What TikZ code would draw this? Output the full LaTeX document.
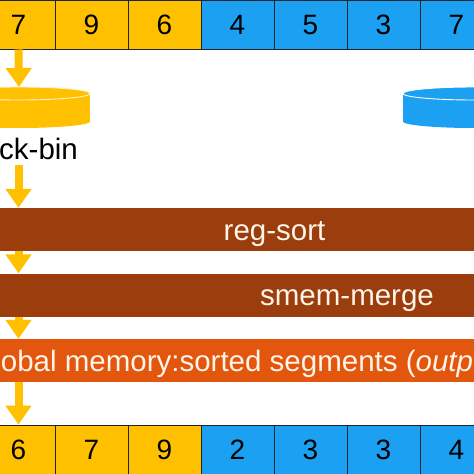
\documentclass[tikz,border=0pt]{standalone}
\usepackage{fontspec}
\setmainfont{Liberation Sans}
\usetikzlibrary{arrows.meta, positioning}
\definecolor{segyellow}{HTML}{FFC000}
\definecolor{segblue}{HTML}{1CA0F2}
\definecolor{kernbrown}{HTML}{9B3D0C}
\definecolor{gmemorange}{HTML}{E2560E}
\definecolor{cellline}{HTML}{1E2430}
\definecolor{bartext}{HTML}{FFF4E8}
\definecolor{binrim}{HTML}{FFF2D0}
\tikzset{
  ycell/.style={draw=cellline, line width=1pt, fill=segyellow, minimum width=73pt, minimum height=49pt, inner sep=0pt, text height=20pt, text depth=0pt, font=\fontsize{28}{32}\selectfont},
  bcell/.style={ycell, fill=segblue},
  kbar/.style={fill=kernbrown, text=bartext, minimum width=900pt, minimum height=43pt, inner sep=0pt, text height=21pt, text depth=0pt, font=\fontsize{29.5}{34}\selectfont},
  binbox/.style={minimum width=142pt, minimum height=41pt, inner sep=0pt, outer sep=0pt},
  flow/.style={draw=segyellow, line width=8pt, -{Triangle[width=25pt,length=19pt]}}
}
\begin{document}
\begin{tikzpicture}[x=1pt, y=-1pt]
      \useasboundingbox (0,0) rectangle (474,474);
      \clip (0,0) rectangle (474,474);

      \node[ycell] (a1) at (18.5,24.5) {7};
      \node[ycell] (a2) at (91.5,24.5) {9};
      \node[ycell] (a3) at (164.5,24.5) {6};
      \node[bcell] (a4) at (237.5,24.5) {4};
      \node[bcell] (a5) at (310.5,24.5) {5};
      \node[bcell] (a6) at (383.5,24.5) {3};
      \node[bcell] (a7) at (456.5,24.5) {7};

      \node[binbox] (bin1) at (19,107.5) {};
      \fill[segyellow] ([yshift=-6.5pt]bin1.north west) rectangle ([yshift=6.5pt]bin1.south east);
      \fill[segyellow] ([yshift=6.5pt]bin1.south) ellipse [x radius=71pt, y radius=6.5pt];
      \filldraw[fill=segyellow, draw=binrim, line width=0.9pt] ([yshift=-6.5pt]bin1.north) ellipse [x radius=71pt, y radius=6.5pt];

      \node[binbox] (bin2) at (474,107.5) {};
      \fill[segblue] ([yshift=-6.5pt]bin2.north west) rectangle ([yshift=6.5pt]bin2.south east);
      \fill[segblue] ([yshift=6.5pt]bin2.south) ellipse [x radius=71pt, y radius=6.5pt];
      \filldraw[fill=segblue, draw=white, line width=0.9pt] ([yshift=-6.5pt]bin2.north) ellipse [x radius=71pt, y radius=6.5pt];

      \node[anchor=base west, inner xsep=0pt, inner ysep=5pt, font=\fontsize{29.5}{34}\selectfont] (binlbl) at (-1,159.5) {ck-bin};

      \node[kbar] (regsort) at (274.5,229.5) {reg-sort};
      \node[kbar] (smem) at (347,295) {smem-merge};
      \node[kbar, fill=gmemorange] (gmem) at (237,360.5) {obal memory:sorted segments (\textit{outp}};

      \node[ycell] (b1) at (18.5,449.5) {6};
      \node[ycell] (b2) at (91.5,449.5) {7};
      \node[ycell] (b3) at (164.5,449.5) {9};
      \node[bcell] (b4) at (237.5,449.5) {2};
      \node[bcell] (b5) at (310.5,449.5) {3};
      \node[bcell] (b6) at (383.5,449.5) {3};
      \node[bcell] (b7) at (456.5,449.5) {4};

      \draw[flow] (a1.south) -- (bin1.north);
      \draw[flow] (binlbl.south -| a1) -- (regsort.north -| a1);
      \draw[flow] (regsort.south -| a1) -- (smem.north -| a1);
      \draw[flow] (smem.south -| a1) -- (gmem.north -| a1);
      \draw[flow] (gmem.south -| a1) -- (b1.north);
\end{tikzpicture}
\end{document}
